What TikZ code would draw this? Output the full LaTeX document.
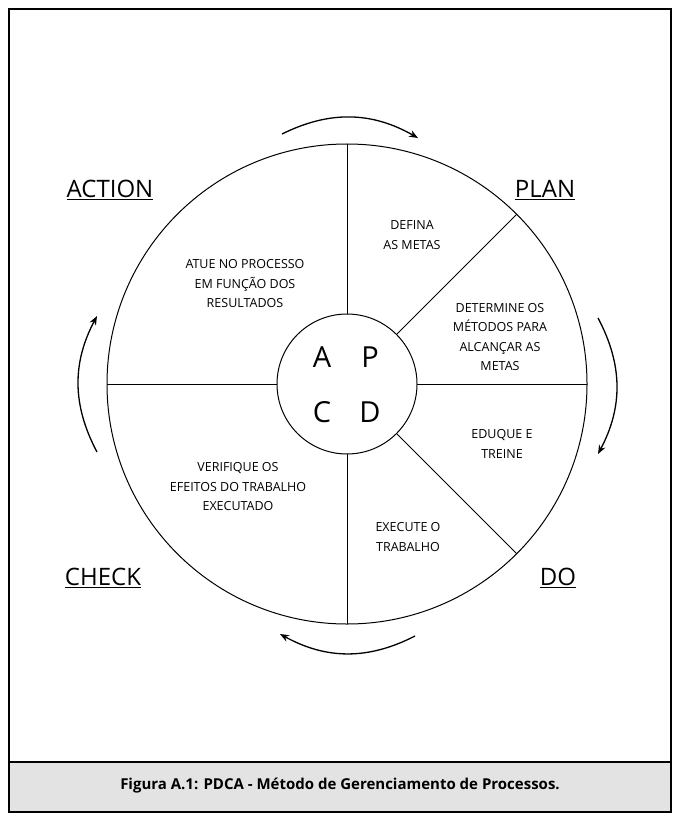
\documentclass[tikz,border=0pt]{standalone}
\usepackage{fontspec}
\setmainfont{Open Sans}
\usetikzlibrary{arrows.meta}
\begin{document}
\begin{tikzpicture}[x=1pt,y=-1pt,
  txt/.style={align=center,font=\fontsize{12.5}{19.5}\selectfont},
  big/.style={font=\fontsize{29}{32}\selectfont},
  lbl/.style={font=\fontsize{24}{28}\selectfont},
  cyc/.style={line width=1.3pt,-{Stealth[length=9pt,width=7pt]}},
  ln/.style={line width=1pt}]
\useasboundingbox (0,0) rectangle (681,821);
\fill[white] (0,0) rectangle (681,821);
\fill[gray!22] (9,762) rectangle (671,812);
\draw[line width=1.8pt] (9,9) rectangle (671,812);
\draw[line width=1.2pt] (9,762) -- (671,762);
\node[font=\bfseries\fontsize{15}{18}\selectfont] (cap) at (340,786) {Figura A.1: PDCA - Método de Gerenciamento de Processos.};
\coordinate (c) at (347,384);
\draw[ln] (c) circle[radius=240];
\draw[ln] (c) circle[radius=70];
\draw[ln] (347,144) -- (347,314);
\draw[ln] (347,454) -- (347,624);
\draw[ln] (107,384) -- (277,384);
\draw[ln] (417,384) -- (587,384);
\draw[ln] (c) ++(-45:70) -- ++(-45:170);
\draw[ln] (c) ++(45:70) -- ++(45:170);
\node[big] (A) at (322,357) {A};
\node[big] (P) at (370,357) {P};
\node[big] (C) at (322,412) {C};
\node[big] (D) at (370,412) {D};
\node[txt] (t1) at (412,235) {DEFINA\\AS METAS};
\node[txt] (t2) at (500,337) {DETERMINE OS\\MÉTODOS PARA\\ALCANÇAR AS\\METAS};
\node[txt] (t3) at (502,444) {EDUQUE E\\TREINE};
\node[txt] (t4) at (408,537) {EXECUTE O\\TRABALHO};
\node[txt] (t5) at (238,487) {VERIFIQUE OS\\EFEITOS DO TRABALHO\\EXECUTADO};
\node[txt] (t6) at (245,284) {ATUE NO PROCESSO\\EM FUNÇÃO DOS\\RESULTADOS};
\node[lbl] (act) at (110,190) {\underline{ACTION}};
\node[lbl] (pln) at (545,190) {\underline{PLAN}};
\node[lbl] (chk) at (103,578) {\underline{CHECK}};
\node[lbl] (do) at (558,578) {\underline{DO}};
\draw[cyc] (282,134) to[bend left=28] (418,138);
\draw[cyc] (598,318) to[bend left=28] (598,454);
\draw[cyc] (415,636) to[bend left=28] (280,634);
\draw[cyc] (97,452) to[bend left=28] (97,316);
\end{tikzpicture}
\end{document}
